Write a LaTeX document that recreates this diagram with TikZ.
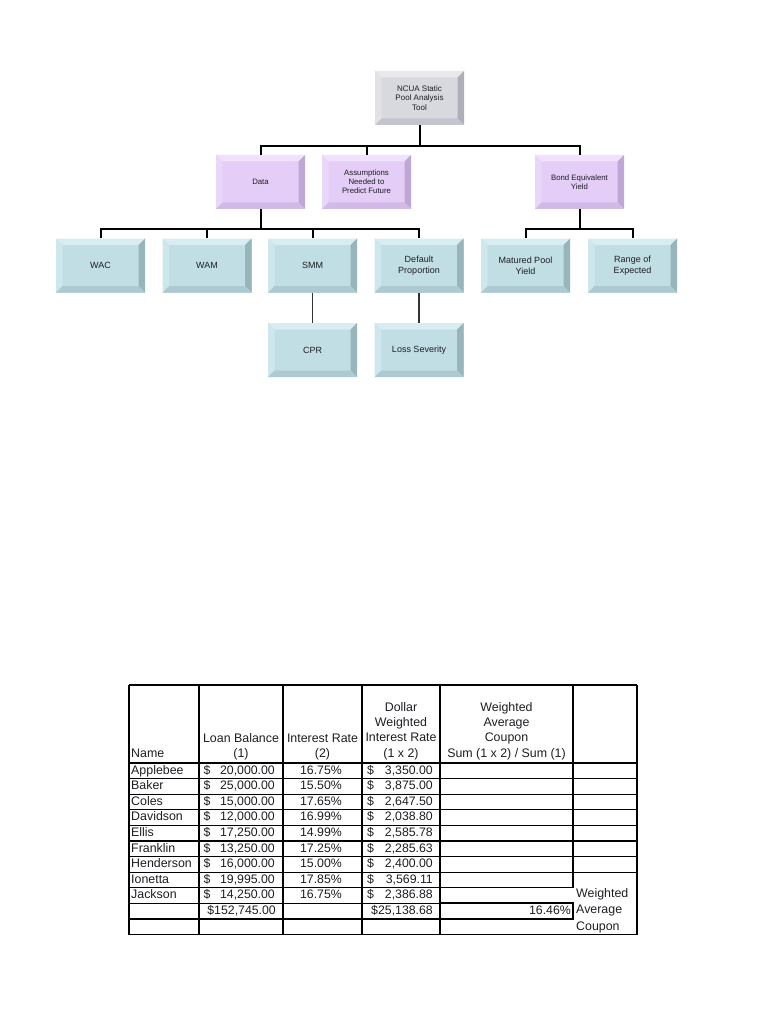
\documentclass[tikz,border=0pt]{standalone}
\usepackage{fontspec}
\setmainfont{Liberation Sans}
\definecolor{bFace}{RGB}{192,222,228}
\definecolor{bTop}{RGB}{216,237,241}
\definecolor{bLeft}{RGB}{206,231,236}
\definecolor{bRight}{RGB}{152,181,187}
\definecolor{bBot}{RGB}{172,202,208}
\definecolor{pFace}{RGB}{228,205,247}
\definecolor{pTop}{RGB}{240,226,252}
\definecolor{pLeft}{RGB}{233,215,250}
\definecolor{pRight}{RGB}{190,166,214}
\definecolor{pBot}{RGB}{209,186,231}
\definecolor{gFace}{RGB}{216,216,223}
\definecolor{gTop}{RGB}{233,233,237}
\definecolor{gLeft}{RGB}{225,225,230}
\definecolor{gRight}{RGB}{174,174,184}
\definecolor{gBot}{RGB}{196,196,204}
\definecolor{txtc}{RGB}{30,30,36}
\newcommand\bevelfill[4]{%
 \fill[#1] (path picture bounding box.north west) -- (path picture bounding box.north east) -- ([shift={(-6.5pt,-6.5pt)}]path picture bounding box.north east) -- ([shift={(6.5pt,-6.5pt)}]path picture bounding box.north west) -- cycle;
 \fill[#2] (path picture bounding box.north west) -- ([shift={(6.5pt,-6.5pt)}]path picture bounding box.north west) -- ([shift={(6.5pt,6.5pt)}]path picture bounding box.south west) -- (path picture bounding box.south west) -- cycle;
 \fill[#3] (path picture bounding box.north east) -- (path picture bounding box.south east) -- ([shift={(-6.5pt,6.5pt)}]path picture bounding box.south east) -- ([shift={(-6.5pt,-6.5pt)}]path picture bounding box.north east) -- cycle;
 \fill[#4] (path picture bounding box.south west) -- (path picture bounding box.south east) -- ([shift={(-6.5pt,6.5pt)}]path picture bounding box.south east) -- ([shift={(6.5pt,6.5pt)}]path picture bounding box.south west) -- cycle;
}
\tikzset{
 cbox/.style={minimum width=89pt, minimum height=54pt, inner sep=0pt, align=center, text=txtc},
 bluebox/.style={cbox, fill=bFace, font=\fontsize{9}{11.3}\selectfont, path picture={\bevelfill{bTop}{bLeft}{bRight}{bBot}}},
 purplebox/.style={cbox, fill=pFace, font=\fontsize{7.8}{9}\selectfont, path picture={\bevelfill{pTop}{pLeft}{pRight}{pBot}}},
 greybox/.style={cbox, fill=gFace, font=\fontsize{8}{9.3}\selectfont, path picture={\bevelfill{gTop}{gLeft}{gRight}{gBot}}},
 tree/.style={line width=2pt, black},
 thinlink/.style={line width=1.2pt, black!80},
 grid/.style={line width=1.2pt, black},
 tcell/.style={inner sep=0pt, text=txtc, font=\fontsize{12.4}{15}\selectfont},
 ncell/.style={inner sep=0pt, text=txtc, font=\fontsize{12.3}{15}\selectfont},
}
\begin{document}
\begin{tikzpicture}[x=1pt,y=-1pt]
\useasboundingbox[fill=white] (0,0) rectangle (768,1024);
% chart
\node[greybox] (ncua) at (419.5,98) {NCUA Static\\Pool Analysis\\Tool};
\node[purplebox] (data) at (260.5,182) {Data};
\node[purplebox] (assm) at (366.5,182) {Assumptions\\Needed to\\Predict Future};
\node[purplebox] (bond) at (579.5,182) {Bond Equivalent\\Yield};
\node[bluebox] (wac) at (100.5,265.5) {WAC};
\node[bluebox] (wam) at (207,265.5) {WAM};
\node[bluebox] (smm) at (312.5,265.5) {SMM};
\node[bluebox] (dflt) at (419,265.5) {Default\\Proportion};
\node[bluebox] (mat) at (525.5,265.5) {Matured Pool\\Yield};
\node[bluebox] (rng) at (632.5,265.5) {Range of\\Expected};
\node[bluebox] (cpr) at (312.5,350) {CPR};
\node[bluebox] (loss) at (419,350) {Loss Severity};
\draw[tree] (ncua.south) -- ([yshift=-21pt]ncua.south) coordinate (j1);
\draw[tree] (data.north) |- (j1) -| (bond.north);
\draw[tree] (assm.north) -- (assm.north |- j1);
\draw[tree] (data.south) -- ([yshift=-20pt]data.south) coordinate (j2);
\draw[tree] (wac.north) |- (j2) -| (dflt.north);
\draw[tree] (wam.north) -- (wam.north |- j2);
\draw[tree] (smm.north) -- (smm.north |- j2);
\draw[tree] (bond.south) -- ([yshift=-20pt]bond.south) coordinate (j3);
\draw[tree] (mat.north) |- (j3) -| (rng.north);
\draw[thinlink] (smm.south) -- (cpr.north);
\draw[thinlink] (dflt.south) -- (loss.north);
% table grid
\draw[grid] (129,685) -- (637,685);
\foreach \k in {0,...,7} \draw[grid] (129,{763+15.6*\k}) -- (637,{763+15.6*\k});
\draw[grid] (129,{763+15.6*8}) -- (573,{763+15.6*8});
\draw[grid] (129,{763+15.6*9}) -- (440,{763+15.6*9});
\draw[grid] (129,{763+15.6*10}) -- (440,{763+15.6*10});
\draw[grid] (129,934.6) -- (637,934.6);
\foreach \xx in {129,199,283,362,440,637} \draw[grid] (\xx,685) -- (\xx,934.6);
\draw[grid] (573,685) -- (573,{763+15.6*8});
\draw[line width=1.9pt] (440,{763+15.6*9}) rectangle (573,{763+15.6*10});
% headers
\node[tcell, anchor=base west] (hName) at (131,757) {Name};
\node[tcell, anchor=base] (hLB1) at (241,742) {Loan Balance};
\node[tcell, anchor=base] (hLB2) at (241,757) {(1)};
\node[tcell, anchor=base] (hIR1) at (322.5,742) {Interest Rate};
\node[tcell, anchor=base] (hIR2) at (322.5,757) {(2)};
\node[tcell, anchor=base] (hD1) at (401,711) {Dollar};
\node[tcell, anchor=base] (hD2) at (401,726.3) {Weighted};
\node[tcell, anchor=base] (hD3) at (401,741.6) {Interest Rate};
\node[tcell, anchor=base] (hD4) at (401,757) {(1 x 2)};
\node[tcell, anchor=base] (hW1) at (506.5,711) {Weighted};
\node[tcell, anchor=base] (hW2) at (506.5,726.3) {Average};
\node[tcell, anchor=base] (hW3) at (506.5,741.6) {Coupon};
\node[tcell, anchor=base] (hW4) at (506.5,757) {Sum (1 x 2) / Sum (1)};
% rows
\foreach \k/\nm/\bal/\rt/\dw in {0/Applebee/{20,000.00}/16.75\%/{3,350.00},
 1/Baker/{25,000.00}/15.50\%/{3,875.00},
 2/Coles/{15,000.00}/17.65\%/{2,647.50},
 3/Davidson/{12,000.00}/16.99\%/{2,038.80},
 4/Ellis/{17,250.00}/14.99\%/{2,585.78},
 5/Franklin/{13,250.00}/17.25\%/{2,285.63},
 6/Henderson/{16,000.00}/15.00\%/{2,400.00},
 7/Ionetta/{19,995.00}/17.85\%/{3,569.11},
 8/Jackson/{14,250.00}/16.75\%/{2,386.88}}{
 \node[tcell, anchor=base west] (nm\k) at (131,{774+15.6*\k}) {\nm};
 \node[ncell, anchor=base west] (d\k) at (203.5,{774+15.6*\k}) {\$};
 \node[ncell, anchor=base east] (bal\k) at (275,{774+15.6*\k}) {\bal};
 \node[ncell, anchor=base] (rt\k) at (321,{774+15.6*\k}) {\rt};
 \node[ncell, anchor=base west] (e\k) at (367,{774+15.6*\k}) {\$};
 \node[ncell, anchor=base east] (dw\k) at (433,{774+15.6*\k}) {\dw};
}
\node[ncell, anchor=base east] (tBal) at (276,{774+15.6*9}) {\$152,745.00};
\node[ncell, anchor=base east] (tDw) at (433,{774+15.6*9}) {\$25,138.68};
\node[ncell, anchor=base east] (wac2) at (571,{774+15.6*9}) {16.46\%};
\node[tcell, anchor=base west] (lw1) at (576,897) {Weighted};
\node[tcell, anchor=base west] (lw2) at (576,913.5) {Average};
\node[tcell, anchor=base west] (lw3) at (576,930) {Coupon};
\end{tikzpicture}
\end{document}
